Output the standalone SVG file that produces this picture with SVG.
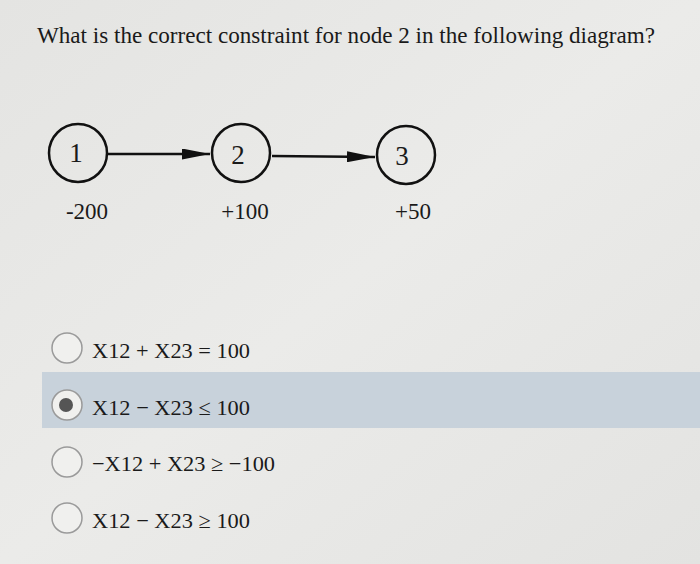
<svg xmlns="http://www.w3.org/2000/svg" width="700" height="564" viewBox="0 0 700 564">
<defs>
<linearGradient id="bg" x1="0" y1="0" x2="1" y2="1">
<stop offset="0" stop-color="#e4e4e2"/>
<stop offset="0.5" stop-color="#ebebe9"/>
<stop offset="1" stop-color="#e3e3e1"/>
</linearGradient>
<marker id="arr" viewBox="0 0 10 10" refX="10" refY="5" markerWidth="28" markerHeight="11" markerUnits="userSpaceOnUse" orient="auto" preserveAspectRatio="none">
<path d="M0,0 L10,5 L0,10 z" fill="#111"/>
</marker>
</defs>
<style>
.t{font-family:"Liberation Serif","Times New Roman",serif;fill:#1a1a1a}
.node circle{fill:none;stroke:#111;stroke-width:2.5}
.num{font-size:27px;text-anchor:middle}
.lbl{font-size:23px;text-anchor:middle}
.opt{font-size:22px}
.radio{fill:#f0f0ee;stroke:#9a9a9a;stroke-width:1.5}
.edge{stroke:#111;stroke-width:2.5;fill:none}
</style>
<rect width="700" height="564" fill="url(#bg)"/>
<text class="t" x="37" y="43" font-size="24" textLength="618" lengthAdjust="spacingAndGlyphs">What is the correct constraint for node 2 in the following diagram?</text>
<g id="connectors">
<line class="edge" x1="108" y1="154" x2="210" y2="154" marker-end="url(#arr)"/>
<line class="edge" x1="272" y1="156" x2="375" y2="157" marker-end="url(#arr)"/>
</g>
<g id="node1" class="node">
<circle cx="78" cy="153" r="29"/>
<text class="t num" x="76" y="162">1</text>
<text class="t lbl" x="87" y="219">-200</text>
</g>
<g id="node2" class="node">
<circle cx="241" cy="153" r="29"/>
<text class="t num" x="238" y="164">2</text>
<text class="t lbl" x="245" y="219">+100</text>
</g>
<g id="node3" class="node">
<circle cx="406" cy="155" r="29"/>
<text class="t num" x="402" y="165">3</text>
<text class="t lbl" x="413" y="219">+50</text>
</g>
<rect x="42" y="372" width="658" height="56" fill="#c8d2db"/>
<g id="opt1">
<circle class="radio" cx="67" cy="348" r="15"/>
<text class="t opt" x="92" y="358" textLength="158" lengthAdjust="spacingAndGlyphs">X12 + X23 = 100</text>
</g>
<g id="opt2">
<circle class="radio" cx="67" cy="405" r="15"/>
<circle cx="66" cy="405" r="7" fill="#555"/>
<text class="t opt" x="92" y="415" textLength="158" lengthAdjust="spacingAndGlyphs">X12 − X23 ≤ 100</text>
</g>
<g id="opt3">
<circle class="radio" cx="67" cy="462" r="15"/>
<text class="t opt" x="92" y="471" textLength="183" lengthAdjust="spacingAndGlyphs">−X12 + X23 ≥ −100</text>
</g>
<g id="opt4">
<circle class="radio" cx="67" cy="518" r="15"/>
<text class="t opt" x="92" y="528" textLength="158" lengthAdjust="spacingAndGlyphs">X12 − X23 ≥ 100</text>
</g>
</svg>
